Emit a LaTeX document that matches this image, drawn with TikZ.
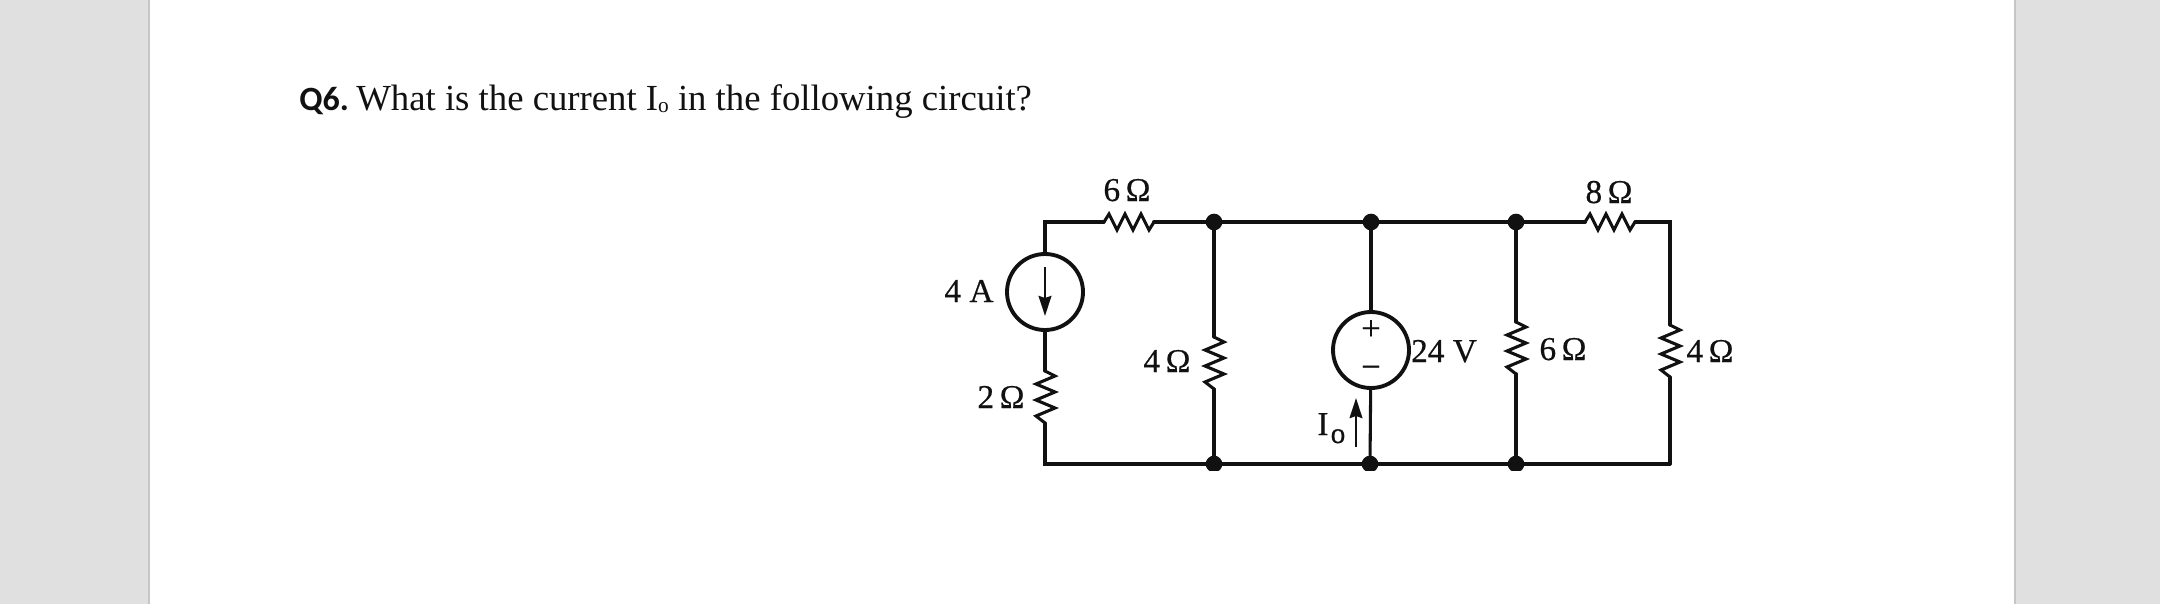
\documentclass[tikz,border=0pt]{standalone}
\usepackage{fontspec}
\setmainfont{Liberation Serif}
\newfontfamily\qfont{Carlito}
\newfontfamily\labfont[FakeBold=0.5]{Liberation Serif}
\usetikzlibrary{arrows.meta}
\definecolor{pagegray}{HTML}{E0E0E0}
\definecolor{edgegray}{HTML}{C6C6C6}
\definecolor{inkc}{HTML}{111111}
\tikzset{
  x=0.75pt,y=-0.75pt,
  wire/.style={line width=2.9pt,draw=inkc,line cap=round,line join=round},
  thinwire/.style={line width=2.3pt,draw=inkc,line cap=round,line join=miter},
  dot/.style={circle,fill=inkc,inner sep=0pt,minimum size=12.5pt},
  source/.style={circle,draw=inkc,line width=2.9pt,fill=white,inner sep=0pt,minimum size=57pt},
  lab/.style={font=\labfont\fontsize{25}{27}\selectfont,text=inkc,inner sep=0pt,anchor=base},
  arr/.style={line width=2pt,draw=inkc,-{Stealth[length=15pt,width=9.5pt,inset=1.5pt]}},
  hres/.pic={
    \coordinate (a) at (-25,0);
    \coordinate (b) at (25,0);
    \draw[thinwire] (a) -- (-20,-8) -- (-12,8) -- (-4,-8) -- (4,8) -- (12,-8) -- (20,8) -- (b);
  },
  vres/.pic={
    \coordinate (a) at (0,-26);
    \coordinate (b) at (0,26);
    \draw[thinwire] (a) -- (10,-21) -- (-9,-13) -- (10,-5) -- (-9,3) -- (10,11) -- (-9,19) -- (b);
  },
}
\begin{document}
\begin{tikzpicture}
\useasboundingbox (0,0) rectangle (2160,604);
\fill[pagegray] (0,0) rectangle (2160,604);
\fill[white] (149,0) rectangle (2015,604);
\draw[edgegray,line width=1.2pt] (149,0) -- (149,604);
\draw[edgegray,line width=1.2pt] (2015,0) -- (2015,604);

\node[font=\qfont\bfseries\fontsize{25.5}{28}\selectfont,text=inkc,inner sep=0pt,anchor=base west] (q) at (299,110) {Q6.};
\node[font=\fontsize{27.55}{30}\selectfont,text=inkc,inner sep=0pt,anchor=base west] (title) at (356,110) {What is the current I\raisebox{-2pt}{\fontsize{16}{16}\selectfont o} in the following circuit?};

% corners and junctions
\coordinate (tl) at (1045,222);
\coordinate (tr) at (1670,222);
\coordinate (bl) at (1045,464);
\coordinate (br) at (1670,464);
\node[dot] (j1) at (1214,222) {};
\node[dot] (j2) at (1371,222) {};
\node[dot] (j3) at (1516,222) {};
\begin{scope}
\clip (1000,200) rectangle (1700,470);
\node[dot] (k1) at (1214,464) {};
\node[dot] (k2) at (1370,464) {};
\node[dot] (k3) at (1516,464) {};
\end{scope}

% sources
\node[source] (cs) at (1045,292) {};
\node[source] (vs) at (1371,350) {};

% resistors
\pic (r1) at (1129,222) {hres};
\pic (r2) at (1610,222) {hres};
\pic (r3) at (1045,397) {vres};
\pic (r4) at (1214,363) {vres};
\pic (r5) at (1516,348) {vres};
\pic (r6) at (1670,351) {vres};

% wires
\draw[wire] (r1b) -- (j1) -- (j2) -- (j3) -- (r2a);
\draw[thinwire] (cs) -- (tl) -- (r1a);
\draw[thinwire] (cs) -- (r3a);
\draw[thinwire] (r3b) -- (bl) -- (k1);
\draw[thinwire] (k1) -- (k2) -- (k3) -- (br);
\draw[thinwire] (j1) -- (r4a);
\draw[thinwire] (r4b) -- (k1);
\draw[wire] (j2) -- (vs);
\draw[thinwire] (vs) -- (k2);
\draw[thinwire] (j3) -- (r5a);
\draw[wire] (r5b) -- (k3);
\draw[thinwire] (r2b) -- (tr) -- (r6a);
\draw[thinwire] (r6b) -- (br);

% source marks
\coordinate (ia) at (1045,267);
\coordinate (ib) at (1045,316);
\draw[arr] (ia) -- (ib);
\node[font=\labfont\fontsize{26}{26}\selectfont,text=inkc,inner sep=0pt] (plus) at (1371,330) {+};
\node[font=\labfont\fontsize{26}{26}\selectfont,text=inkc,inner sep=0pt] (minus) at (1371,372) {\textminus};

% current arrow
\coordinate (ioa) at (1356,447);
\coordinate (iob) at (1356,398);
\draw[arr] (ioa) -- (iob);

% labels
\node[lab] (l6a) at (1127,201) {6\,Ω};
\node[lab] (l8) at (1609,203) {8\,Ω};
\node[lab] (l4a) at (969,302) {4 A};
\node[lab] (l2) at (1001,408) {2\,Ω};
\node[lab] (l4b) at (1167,372) {4\,Ω};
\node[lab] (l24) at (1444,362) {24 V};
\node[lab] (l6b) at (1563,360) {6\,Ω};
\node[lab] (l4c) at (1710,362) {4\,Ω};
\node[font=\labfont\fontsize{25}{25}\selectfont,text=inkc,inner sep=0pt,anchor=base] (io) at (1323,435) {I};
\node[font=\labfont\fontsize{22}{22}\selectfont,text=inkc,inner sep=0pt,anchor=base] (io0) at (1338,443) {o};
\end{tikzpicture}
\end{document}
